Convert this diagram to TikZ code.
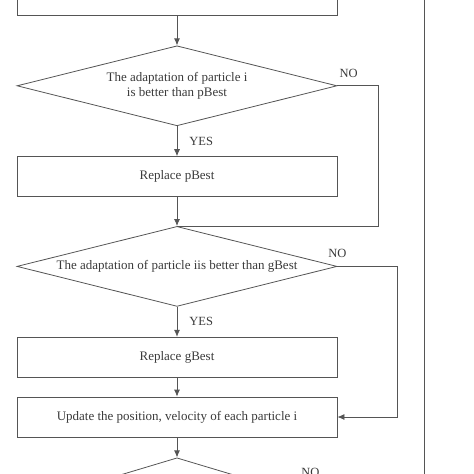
\documentclass[tikz,border=0pt]{standalone}
\usepackage{tikz}
\usetikzlibrary{shapes.geometric, arrows.meta, positioning}
\usepackage{xcolor}
\usepackage{fontspec}
\setmainfont{Liberation Serif}
\definecolor{linegray}{HTML}{555555}
\definecolor{textgray}{HTML}{3A3A3A}

\begin{document}
\begin{tikzpicture}[x=1pt, y=-1pt, >={Latex[length=7pt, width=6pt]},
    procbox/.style={draw=linegray, line width=0.8pt, minimum width=320pt, minimum height=40pt, inner sep=0pt, text=textgray, font=\fontsize{13}{15.5}\selectfont},
    decision/.style={draw=linegray, line width=0.8pt, diamond, aspect=4, minimum width=320pt, minimum height=80pt, inner sep=0pt, align=center, text=textgray, font=\fontsize{13}{15.5}\selectfont},
    flow/.style={->, draw=linegray, line width=0.8pt},
    plain/.style={draw=linegray, line width=0.8pt},
    lbl/.style={text=textgray, inner sep=1pt, font=\fontsize{12.5}{12.5}\selectfont}]
                \clip (0,0) rectangle (474,474);
                \node (init) at (177,-5) [procbox] {};
                \node (d1) [below=30pt of init, decision] {The adaptation of particle i\\is better than pBest};
                \node (pbest) [below=30pt of d1, procbox] {Replace pBest};
                \node (d2) [below=29pt of pbest, decision] {The adaptation of particle iis better than gBest};
                \node (gbest) [below=30pt of d2, procbox] {Replace gBest};
                \node (upd) [below=19pt of gbest, procbox] {Update the position, velocity of each particle i};
                \node (d3) [below=20pt of upd, decision, aspect=3.33, minimum width=266pt] {};
                \coordinate (loopin) at (424,-10);
                \draw[flow] (init) -- (d1);
                \draw[flow] (d1) -- node[lbl, right=11pt] (yes1) {YES} (pbest);
                \draw[flow] (pbest) -- (d2);
                \draw[flow] (d2) -- node[lbl, right=11pt] (yes2) {YES} (gbest);
                \draw[flow] (gbest) -- (upd);
                \draw[flow] (upd) -- (d3);
                \draw[plain] (d1.east) -- ++(41,0) |- (d2.north);
                \draw[flow] (d2.east) -- ++(60,0) |- (upd.east);
                \draw[flow] (d3.east) -| (loopin);
                \node (no1) [lbl, above right=7pt and 1pt of d1.east] {NO};
                \node (no2) [lbl, above=8pt of d2.east] {NO};
                \node (no3) [lbl, above=20pt of d3.east] {NO};
            \end{tikzpicture}
\end{document}
